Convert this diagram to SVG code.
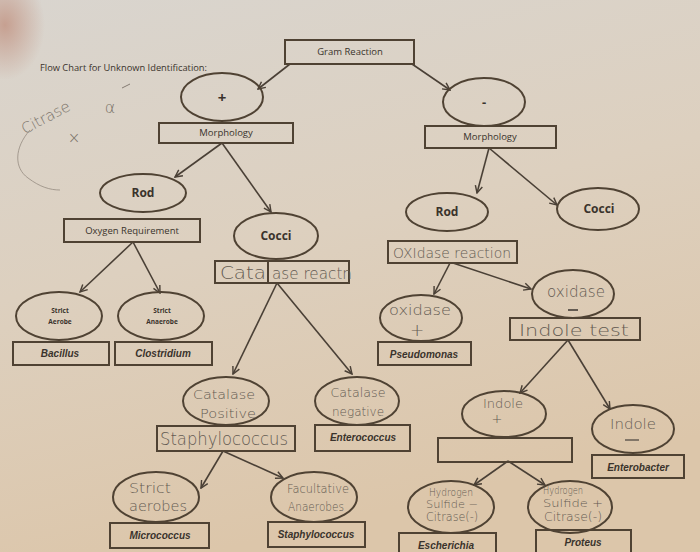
<svg xmlns="http://www.w3.org/2000/svg" width="700" height="552" viewBox="0 0 700 552">
<defs>
<linearGradient id="bg" x1="0" y1="0" x2="0.3" y2="1">
<stop offset="0" stop-color="#d9d5cf"/>
<stop offset="0.5" stop-color="#ddd0bf"/>
<stop offset="1" stop-color="#dcc6aa"/>
</linearGradient>
<radialGradient id="finger" cx="0.5" cy="0.5" r="0.5">
<stop offset="0" stop-color="#c49a8a" stop-opacity="0.9"/>
<stop offset="1" stop-color="#c49a8a" stop-opacity="0"/>
</radialGradient>
<marker id="ah" viewBox="0 0 10 10" refX="9" refY="5" markerWidth="9" markerHeight="9" markerUnits="userSpaceOnUse" orient="auto">
<path d="M1,1 L9,5 L1,9" fill="none" stroke="#4a4036" stroke-width="1.6"/>
</marker>
<style>
.box{fill:none;stroke:#4f4233;stroke-width:2}
.ell{fill:none;stroke:#4f4233;stroke-width:2}
.con{fill:none;stroke:#4a4036;stroke-width:1.6}
.t{font-family:"Open Sans","Liberation Sans",sans-serif;fill:#3a332c;text-anchor:middle}
.s9{font-size:9.5px}
.b12{font-size:12px;font-weight:bold}
.bi{font-size:10px;font-weight:bold;font-style:italic;font-family:"Liberation Sans",sans-serif}
.sm{font-size:6.5px;font-weight:bold}
.h{font-family:"DejaVu Sans","Liberation Sans",sans-serif;fill:#645b52;text-anchor:middle;font-weight:200}
</style>
</defs>
<rect width="700" height="552" fill="url(#bg)"/>
<ellipse cx="5" cy="25" rx="40" ry="55" fill="url(#finger)"/>

<text x="40" y="71" class="t s9" style="text-anchor:start" textLength="167" lengthAdjust="spacingAndGlyphs">Flow Chart for Unknown Identification:</text>

<g id="pencil-note" opacity="0.8">
<text x="48" y="122" class="h" font-size="15" transform="rotate(-28 48 122)">Citrase</text>
<text x="110" y="113" class="h" font-size="16">α</text>
<path d="M122,88 L130,84" stroke="#6f665d" stroke-width="1" fill="none"/>
<text x="74" y="143" class="h" font-size="15">×</text>
<path d="M30,130 C14,148 14,168 28,178 C40,187 50,190 60,190" stroke="#857b71" stroke-width="0.8" fill="none"/>
</g>

<g id="connectors">
<line class="con" x1="290" y1="64" x2="258" y2="89" marker-end="url(#ah)"/>
<line class="con" x1="412" y1="64" x2="450" y2="90" marker-end="url(#ah)"/>
<line class="con" x1="222" y1="143" x2="175" y2="177" marker-end="url(#ah)"/>
<line class="con" x1="222" y1="143" x2="271" y2="212" marker-end="url(#ah)"/>
<line class="con" x1="489" y1="148" x2="477" y2="193" marker-end="url(#ah)"/>
<line class="con" x1="489" y1="148" x2="557" y2="205" marker-end="url(#ah)"/>
<line class="con" x1="133" y1="242" x2="80" y2="292" marker-end="url(#ah)"/>
<line class="con" x1="133" y1="242" x2="160" y2="293" marker-end="url(#ah)"/>
<line class="con" x1="277" y1="283" x2="233" y2="374" marker-end="url(#ah)"/>
<line class="con" x1="277" y1="283" x2="352" y2="374" marker-end="url(#ah)"/>
<line class="con" x1="450" y1="263" x2="434" y2="294" marker-end="url(#ah)"/>
<line class="con" x1="453" y1="263" x2="531" y2="289" marker-end="url(#ah)"/>
<line class="con" x1="568" y1="340" x2="520" y2="393" marker-end="url(#ah)"/>
<line class="con" x1="568" y1="340" x2="610" y2="409" marker-end="url(#ah)"/>
<line class="con" x1="223" y1="451" x2="201" y2="488" marker-end="url(#ah)"/>
<line class="con" x1="223" y1="451" x2="283" y2="478" marker-end="url(#ah)"/>
<line class="con" x1="508" y1="461" x2="474" y2="485" marker-end="url(#ah)"/>
<line class="con" x1="508" y1="461" x2="545" y2="485" marker-end="url(#ah)"/>
</g>

<g id="gram-reaction"><rect class="box" x="285" y="40" width="129" height="24"/><text x="350" y="55" class="t s9">Gram Reaction</text></g>

<g id="gram-positive"><ellipse class="ell" cx="222" cy="97" rx="41" ry="24"/><text x="222" y="103" class="t" font-size="15" font-weight="bold">+</text></g>
<g id="morphology-pos"><rect class="box" x="159" y="123" width="134" height="20"/><text x="226" y="136" class="t s9">Morphology</text></g>

<g id="gram-negative"><ellipse class="ell" cx="484" cy="102" rx="41" ry="24"/><text x="484" y="107" class="t" font-size="13" font-weight="bold">-</text></g>
<g id="morphology-neg"><rect class="box" x="425" y="126" width="131" height="22"/><text x="490" y="140" class="t s9">Morphology</text></g>

<g id="rod-pos"><ellipse class="ell" cx="143" cy="193" rx="43" ry="19"/><text x="143" y="197" class="t b12">Rod</text></g>
<g id="oxygen-requirement"><rect class="box" x="64" y="219" width="136" height="23"/><text x="132" y="234" class="t s9">Oxygen Requirement</text></g>
<g id="strict-aerobe"><ellipse class="ell" cx="59" cy="316" rx="43" ry="24"/><text x="60" y="313" class="t sm">Strict</text><text x="60" y="324" class="t sm">Aerobe</text></g>
<g id="strict-anaerobe"><ellipse class="ell" cx="161" cy="316" rx="43" ry="24"/><text x="162" y="313" class="t sm">Strict</text><text x="162" y="324" class="t sm">Anaerobe</text></g>
<g id="bacillus"><rect class="box" x="13" y="342" width="96" height="23"/><text x="60" y="357" class="t bi">Bacillus</text></g>
<g id="clostridium"><rect class="box" x="115" y="342" width="97" height="23"/><text x="163" y="357" class="t bi">Clostridium</text></g>

<g id="cocci-pos"><ellipse class="ell" cx="276" cy="236" rx="42" ry="23"/><text x="276" y="240" class="t b12">Cocci</text></g>
<g id="catalase-reaction"><rect class="box" x="215" y="261" width="134" height="22"/><line class="box" x1="268" y1="261" x2="268" y2="283" stroke-width="1.5"/><text x="243" y="279" class="h" font-size="17" textLength="46" lengthAdjust="spacingAndGlyphs">Cata</text><text x="312" y="279" class="h" font-size="15" textLength="80" lengthAdjust="spacingAndGlyphs">ase reactn</text></g>
<g id="catalase-positive"><ellipse class="ell" cx="226" cy="401" rx="43" ry="24"/><text x="224" y="399" class="h" font-size="13" textLength="62" lengthAdjust="spacingAndGlyphs">Catalase</text><text x="228" y="418" class="h" font-size="13" textLength="56" lengthAdjust="spacingAndGlyphs">Positive</text></g>
<g id="staphylococcus-genus"><rect class="box" x="157" y="426" width="138" height="25"/><text x="224" y="445" class="h" font-size="17" textLength="128" lengthAdjust="spacingAndGlyphs">Staphylococcus</text></g>
<g id="catalase-negative"><ellipse class="ell" cx="357" cy="401" rx="42" ry="24"/><text x="358" y="397" class="h" font-size="13" textLength="55" lengthAdjust="spacingAndGlyphs">Catalase</text><text x="358" y="416" class="h" font-size="13" textLength="52" lengthAdjust="spacingAndGlyphs">negative</text></g>
<g id="enterococcus"><rect class="box" x="315" y="425" width="95" height="26"/><text x="363" y="441" class="t bi">Enterococcus</text></g>
<g id="strict-aerobes"><ellipse class="ell" cx="156" cy="497" rx="43" ry="25"/><text x="150" y="493" class="h" font-size="14" textLength="42" lengthAdjust="spacingAndGlyphs">Strict</text><text x="158" y="511" class="h" font-size="14" textLength="58" lengthAdjust="spacingAndGlyphs">aerobes</text></g>
<g id="micrococcus"><rect class="box" x="110" y="523" width="99" height="25"/><text x="160" y="539" class="t bi">Micrococcus</text></g>
<g id="facultative-anaerobes"><ellipse class="ell" cx="314" cy="497" rx="43" ry="25"/><text x="318" y="493" class="h" font-size="13" textLength="62" lengthAdjust="spacingAndGlyphs">Facultative</text><text x="316" y="511" class="h" font-size="13" textLength="56" lengthAdjust="spacingAndGlyphs">Anaerobes</text></g>
<g id="staphylococcus"><rect class="box" x="268" y="522" width="97" height="25"/><text x="316" y="538" class="t bi">Staphylococcus</text></g>

<g id="rod-neg"><ellipse class="ell" cx="447" cy="212" rx="41" ry="19"/><text x="447" y="216" class="t b12">Rod</text></g>
<g id="cocci-neg"><ellipse class="ell" cx="598" cy="209" rx="41" ry="21"/><text x="599" y="213" class="t b12">Cocci</text></g>
<g id="oxidase-reaction"><rect class="box" x="388" y="241" width="129" height="22"/><text x="452" y="258" class="h" font-size="14" textLength="118" lengthAdjust="spacingAndGlyphs">OXIdase reaction</text></g>
<g id="oxidase-positive"><ellipse class="ell" cx="421" cy="318" rx="41" ry="23"/><text x="420" y="315" class="h" font-size="14" textLength="62" lengthAdjust="spacingAndGlyphs">oxidase</text><text x="417" y="336" class="h" font-size="17">+</text></g>
<g id="pseudomonas"><rect class="box" x="378" y="342" width="93" height="23"/><text x="424" y="358" class="t bi">Pseudomonas</text></g>
<g id="oxidase-negative"><ellipse class="ell" cx="573" cy="294" rx="41" ry="24"/><text x="576" y="297" class="h" font-size="15" textLength="58" lengthAdjust="spacingAndGlyphs">oxidase</text><line x1="568" y1="310" x2="578" y2="310" stroke="#645b52" stroke-width="2"/></g>
<g id="indole-test"><rect class="box" x="510" y="318" width="130" height="22"/><text x="574" y="336" class="h" font-size="16" textLength="110" lengthAdjust="spacingAndGlyphs">Indole test</text></g>
<g id="indole-positive"><ellipse class="ell" cx="504" cy="414" rx="42" ry="23"/><text x="503" y="408" class="h" font-size="13" textLength="40" lengthAdjust="spacingAndGlyphs">Indole</text><text x="497" y="423" class="h" font-size="13">+</text></g>
<g id="blank-box"><rect class="box" x="438" y="438" width="134" height="24"/></g>
<g id="indole-negative"><ellipse class="ell" cx="633" cy="429" rx="41" ry="24"/><text x="633" y="429" class="h" font-size="14" textLength="46" lengthAdjust="spacingAndGlyphs">Indole</text><line x1="625" y1="440" x2="639" y2="440" stroke="#645b52" stroke-width="1.5"/></g>
<g id="enterobacter"><rect class="box" x="592" y="455" width="92" height="23"/><text x="638" y="471" class="t bi">Enterobacter</text></g>
<g id="h2s-negative"><ellipse class="ell" cx="451" cy="507" rx="43" ry="26"/><text x="451" y="496" class="h" font-size="10" textLength="44" lengthAdjust="spacingAndGlyphs">Hydrogen</text><text x="452" y="508" class="h" font-size="11" textLength="52" lengthAdjust="spacingAndGlyphs">Sulfide −</text><text x="452" y="521" class="h" font-size="12" textLength="52" lengthAdjust="spacingAndGlyphs">Citrase(-)</text></g>
<g id="h2s-positive"><ellipse class="ell" cx="570" cy="507" rx="42" ry="26"/><text x="563" y="494" class="h" font-size="10" textLength="40" lengthAdjust="spacingAndGlyphs">Hydrogen</text><text x="573" y="507" class="h" font-size="11" textLength="60" lengthAdjust="spacingAndGlyphs">Sulfide +</text><text x="573" y="521" class="h" font-size="12" textLength="58" lengthAdjust="spacingAndGlyphs">Citrase(-)</text></g>
<g id="escherichia"><rect class="box" x="399" y="533" width="97" height="21"/><text x="446" y="549" class="t bi">Escherichia</text></g>
<g id="proteus"><rect class="box" x="536" y="530" width="95" height="24"/><text x="583" y="546" class="t bi">Proteus</text></g>
</svg>
